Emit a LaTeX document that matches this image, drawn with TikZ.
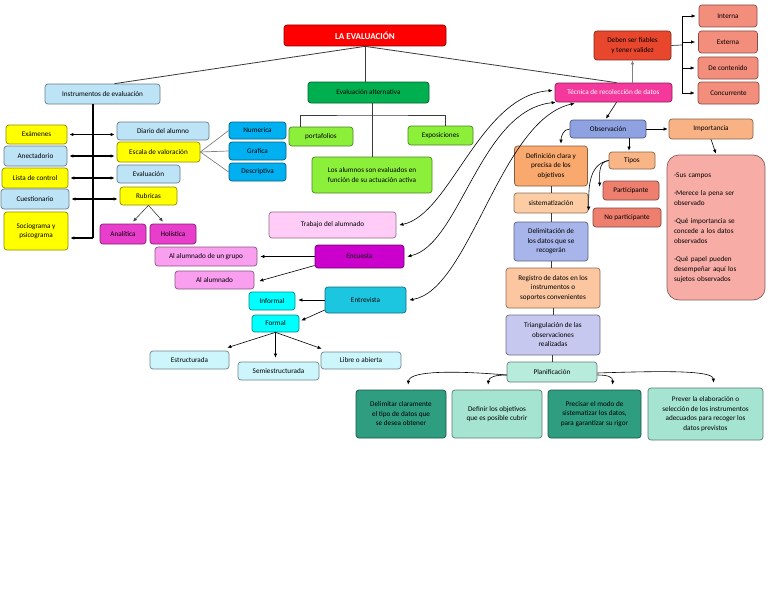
\documentclass[tikz,border=0pt]{standalone}
\usepackage{fontspec}
\setmainfont{Carlito}
\usetikzlibrary{arrows.meta,calc}
\definecolor{cred}{HTML}{FF0000}
\definecolor{clblue}{HTML}{BDE3F7}
\definecolor{cyel}{HTML}{FFFF00}
\definecolor{cblue}{HTML}{00B0F0}
\definecolor{cmag}{HTML}{E83ECB}
\definecolor{cgreen}{HTML}{00B050}
\definecolor{clime}{HTML}{8CF03A}
\definecolor{clpink}{HTML}{FFCCF7}
\definecolor{cpurple}{HTML}{CC00CC}
\definecolor{cpink}{HTML}{FA9EF0}
\definecolor{ccyan}{HTML}{1CC6E0}
\definecolor{caqua}{HTML}{00FFFF}
\definecolor{clcyan}{HTML}{CCF6FC}
\definecolor{ctec}{HTML}{F5389C}
\definecolor{cdeb}{HTML}{E8472E}
\definecolor{csal}{HTML}{F38E7D}
\definecolor{cperi}{HTML}{8EA2E2}
\definecolor{clor}{HTML}{F9B283}
\definecolor{cbig}{HTML}{F7ADA6}
\definecolor{cdef}{HTML}{F9A96E}
\definecolor{csis}{HTML}{FCCDA4}
\definecolor{cdelim}{HTML}{A8B5EA}
\definecolor{creg}{HTML}{FBC6A0}
\definecolor{ctri}{HTML}{C7C8EF}
\definecolor{cplan}{HTML}{B7EBDB}
\definecolor{cdteal}{HTML}{2F9D7F}
\definecolor{clteal}{HTML}{A6E4D2}
\definecolor{ctipos}{HTML}{FAB586}
\definecolor{cpart}{HTML}{EE7F6F}
\definecolor{cline}{HTML}{3A3A3A}
\begin{document}
\begin{tikzpicture}[x=1pt,y=-1pt,
  bx/.style={rounded corners=3pt, line width=0.7pt, inner sep=1pt, align=center, font=\fontsize{7.2}{9.5}\selectfont},
  c/.style={fill=#1, draw=#1!55!black},
  sz/.style 2 args={minimum width=#1pt, minimum height=#2pt},
  ar/.style={-{Latex[length=4pt,width=3.5pt]}, line width=0.6pt},
  dar/.style={{Latex[length=4pt,width=3.5pt]}-{Latex[length=4pt,width=3.5pt]}, line width=0.6pt},
  con/.style={draw=cline, line width=0.8pt},
  brk/.style={line width=1.4pt, black},
  ]
\useasboundingbox[fill=white] (0,0) rectangle (768,594);

% ---- top
\node[bx,c=cred,sz={162}{21},text=white,font=\fontsize{9}{11}\selectfont\bfseries] (ev) at (365,35.5) {LA EVALUACIÓN};
\node[bx,c=clblue,sz={115}{20}] (inst) at (102.5,94) {Instrumentos de evaluación};
\node[bx,c=cgreen,sz={121}{21}] (ea) at (368.5,92.5) {Evaluación alternativa};
\node[bx,c=ctec,sz={117}{19},text=white] (tec) at (613.5,92.5) {Técnica de recolección de datos};
\node[bx,c=cdeb,sz={77}{29}] (deb) at (632.5,45.5) {Deben ser fiables\\y tener validez};
\node[bx,c=csal,sz={58}{22}] (int) at (728,16) {Interna};
\node[bx,c=csal,sz={59}{22}] (ext) at (728,42) {Externa};
\node[bx,c=csal,sz={60}{22}] (cont) at (728,68) {De contenido};
\node[bx,c=csal,sz={61}{22}] (conc) at (728.5,93) {Concurrente};

% ---- left column
\node[bx,c=cyel,sz={61}{19}] (exam) at (36.5,134.5) {Exámenes};
\node[bx,c=clblue,sz={63}{20}] (anec) at (35.5,156) {Anectadorio};
\node[bx,c=cyel,sz={66}{20}] (lista) at (35,178) {Lista de control};
\node[bx,c=clblue,sz={68}{20}] (cues) at (35,199) {Cuestionario};
\node[bx,c=cyel,sz={64}{38}] (socio) at (36,231) {Sociograma y\\psicograma};
\node[bx,c=clblue,sz={92}{18}] (diario) at (163,131) {Diario del alumno};
\node[bx,c=cyel,sz={83}{20}] (escala) at (158.5,152) {Escala de valoración};
\node[bx,c=clblue,sz={63}{18}] (evalu) at (148.5,174) {Evaluación};
\node[bx,c=cyel,sz={57}{18}] (rub) at (148.5,196) {Rubricas};
\node[bx,c=cblue,sz={57}{17}] (num) at (257.5,130.5) {Numerica};
\node[bx,c=cblue,sz={57}{18}] (graf) at (257.5,151) {Grafica};
\node[bx,c=cblue,sz={57}{18}] (desc) at (257.5,172) {Descriptiva};
\node[bx,c=cmag,sz={46}{20}] (anal) at (123,234) {Analítica};
\node[bx,c=cmag,sz={46}{20}] (hol) at (173,234) {Holística};

% ---- alternative evaluation
\node[bx,c=clime,sz={64}{19}] (port) at (321,136.5) {portafolios};
\node[bx,c=clime,sz={65}{19}] (expo) at (440.5,135.5) {Exposiciones};
\node[bx,c=clime,sz={120}{36}] (alum) at (372,175) {Los alumnos son evaluados en\\función de su actuación activa};

% ---- techniques
\node[bx,c=clpink,sz={127}{26}] (trab) at (332.5,225) {Trabajo del alumnado};
\node[bx,c=cpurple,sz={89}{23}] (enc) at (359.5,256.5) {Encuesta};
\node[bx,c=cpink,sz={102}{19}] (grupo) at (206,256.5) {Al alumnado de un grupo};
\node[bx,c=cpink,sz={79}{18}] (alum2) at (214.5,280) {Al alumnado};
\node[bx,c=ccyan,sz={81}{26}] (ent) at (365.5,300) {Entrevista};
\node[bx,c=caqua,sz={46}{18}] (inf) at (272,301) {Informal};
\node[bx,c=caqua,sz={47}{17}] (form) at (275.5,323.5) {Formal};
\node[bx,c=clcyan,sz={79}{18}] (estr) at (189.5,360) {Estructurada};
\node[bx,c=clcyan,sz={81}{18}] (semi) at (278.5,371) {Semiestructurada};
\node[bx,c=clcyan,sz={80}{17}] (libre) at (361,360.5) {Libre o abierta};

% ---- observation
\node[bx,c=cperi,sz={76}{18}] (obs) at (608,129) {Observación};
\node[bx,c=clor,sz={84}{20}] (imp) at (711,129) {Importancia};
\node[bx,c=cbig,sz={98}{145},rounded corners=12pt,align=left,text width=84pt,font=\fontsize{7.2}{10}\selectfont] (big) at (716,227.5)
  {-Sus campos\\[8pt]-Merece la pena ser\\observado\\[8pt]-Qué importancia se\\concede a los datos\\observados\\[8pt]-Qué papel pueden\\desempeñar aquí los\\sujetos observados};
\node[bx,c=cdef,sz={73}{40}] (def) at (551,166) {Definición clara y\\precisa de los\\objetivos};
\node[bx,c=csis,sz={74}{20}] (sis) at (551,203) {sistematización};
\node[bx,c=cdelim,sz={74}{39}] (delim) at (551,241.5) {Delimitación de\\los datos que se\\recogerán};
\node[bx,c=creg,sz={94}{40}] (reg) at (553,288) {Registro de datos en los\\instrumentos o\\soportes convenientes};
\node[bx,c=ctri,sz={94}{40}] (tri) at (553,335) {Triangulación de las\\observaciones\\realizadas};
\node[bx,c=cplan,sz={90}{20}] (plan) at (552,372) {Planificación};
\node[bx,c=ctipos,sz={46}{17}] (tipos) at (632,160.5) {Tipos};
\node[bx,c=cpart,sz={56}{19}] (part) at (631,190.5) {Participante};
\node[bx,c=cpart,sz={68}{19}] (np) at (627,217.5) {No participante};

% ---- planning children
\node[bx,c=cdteal,sz={90}{48}] (d1) at (401,414) {Delimitar claramente\\el tipo de datos que\\se desea obtener};
\node[bx,c=clteal,sz={90}{48}] (d2) at (497,414) {Definir los objetivos\\que es posible cubrir};
\node[bx,c=cdteal,sz={93}{48}] (d3) at (594.5,414) {Precisar el modo de\\sistematizar los datos,\\para garantizar su rigor};
\node[bx,c=clteal,sz={115}{52}] (d4) at (705.5,414) {Prever la elaboración o\\selección de los instrumentos\\adecuados para recoger los\\datos previstos};

% ---- connectors: top
\draw[con] (ev.south) -- ([xshift=12pt]inst.north);
\draw[con] (ev.south) -- (ev.south |- ea.north);
\draw[con] (ev.south) -- ([xshift=3pt]tec.north);

% instruments bracket
\coordinate (vtop) at (93,104);
\coordinate (vbot) at (93,238);
\draw[brk] (vtop) -- (vbot);
\draw[brk,{Latex[length=4pt,width=3.5pt]}-{Latex[length=4pt,width=3.5pt]}] ([xshift=2pt]exam.east) -- ([xshift=-2pt]exam.east -| diario.west);
\draw[brk,{Latex[length=4pt,width=3.5pt]}-{Latex[length=4pt,width=3.5pt]}] ([xshift=2pt]anec.east) -- ([xshift=-2pt]anec.east -| escala.west);
\draw[brk,{Latex[length=4pt,width=3.5pt]}-{Latex[length=4pt,width=3.5pt]}] ([xshift=2pt]lista.east) -- ([xshift=-2pt]lista.east -| evalu.west);
\draw[brk,{Latex[length=4pt,width=3.5pt]}-{Latex[length=4pt,width=3.5pt]}] ([xshift=2pt]cues.east) -- ([xshift=-2pt]cues.east -| rub.west);
\draw[brk,-{Latex[length=4pt,width=3.5pt]}] (vbot) -- ([xshift=2pt]vbot -| socio.east);

\draw[gray,line width=0.7pt] (escala.east) -- (num.west);
\draw[gray,line width=0.7pt] (escala.east) -- (graf.west);
\draw[gray,line width=0.7pt] (escala.east) -- (desc.west);
\draw[ar,black!75] (rub.south) -- ([xshift=10pt,yshift=2pt]anal.north);
\draw[ar,black!75] (rub.south) -- ([xshift=-10pt,yshift=2pt]hol.north);

% alternative evaluation
\coordinate (eaj) at (372,115);
\draw[con] ([xshift=3.5pt]ea.south) -- ([xshift=3.5pt]ea.south |- alum.north);
\draw[con] ([xshift=-21pt]port.north) |- (eaj) -| ([xshift=4.5pt]expo.north);

% technique
\draw[ar,gray] (deb.south |- tec.north) -- (deb.south);
\coordinate (dj) at (682,45);
\draw[con,line width=0.7pt] (deb.east) -- (dj);
\draw[ar] (dj) |- ([xshift=-3pt]int.west);
\draw[ar] (dj) |- ([xshift=-3pt]ext.west);
\draw[ar] (dj) |- ([xshift=-3pt]cont.west);
\draw[ar] (dj) |- ([xshift=-3pt]conc.west);

\draw[dar] ([xshift=3pt]trab.east) .. controls (450,215) and (480,95) .. ([yshift=2pt,xshift=-2pt]tec.west);
\draw[dar] ([xshift=3pt]enc.east) .. controls (460,245) and (480,110) .. ([xshift=1pt]tec.south west);
\draw[dar] ([xshift=3pt]ent.east) .. controls (470,290) and (500,120) .. ([xshift=20pt,yshift=-1pt]tec.south west);

\draw[ar] ([xshift=3pt]tec.south) -- ([xshift=-2pt,yshift=1pt]obs.north);
\draw[ar] (obs.east) -- ([xshift=-1pt]imp.west);
\draw[ar] (imp.south) -- ([yshift=1pt]big.north);
\draw[ar] ([xshift=-3pt]tipos.north |- obs.south) -- ([xshift=-3pt,yshift=1pt]tipos.north);
\draw[ar] (obs.west) to[out=180,in=90] ([xshift=10pt,yshift=2pt]def.north);
\draw[ar] (tipos.west) to[out=185,in=90] ([shift={(-3pt,-6pt)}]part.north west);
\draw[ar] (tipos.west) to[out=190,in=90] ([shift={(-4pt,-3pt)}]np.north west);

\draw[con,line width=1pt] (def.south) -- (sis.north);
\draw[con,line width=1pt] (sis.south) -- (delim.north);
\draw[con,line width=1pt] (delim.south) -- (delim.south |- reg.north);
\draw[con,line width=1pt] (reg.south) -- (tri.north);
\draw[con,line width=1pt] ([xshift=-1pt]tri.south) -- ([xshift=-1pt]tri.south |- plan.north);

% encuesta / entrevista
\draw[ar] (enc.west) -- ([xshift=3pt]grupo.east);
\draw[ar] ([yshift=-9pt]enc.west) -- ([xshift=5pt,yshift=-1pt]alum2.east);
\draw[ar] (ent.west) -- ([xshift=3pt,yshift=1pt]inf.east);
\draw[ar] ([yshift=-10pt]ent.west) -- ([xshift=2pt,yshift=3pt]form.east);
\draw[ar] (form.south) -- ([xshift=-2pt,yshift=3pt]estr.north east);
\draw[ar] (form.south) -- ([yshift=4pt]form.south |- semi.north);
\draw[ar] (form.south) -- ([xshift=1pt,yshift=3pt]libre.north west);

% planning
\draw[ar] ([yshift=-3pt]plan.west) .. controls (460,371) and (410,370) .. ([xshift=7pt,yshift=5pt]d1.north);
\draw[ar] ([yshift=-3pt]plan.west) .. controls (495,375) and (489,377) .. ([xshift=-9pt,yshift=5pt]d2.north);
\draw[ar] ([yshift=-3pt]plan.east) .. controls (608,375) and (613,377) .. ([xshift=18pt,yshift=5pt]d3.north);
\draw[ar] ([yshift=-1pt]plan.east) .. controls (660,371) and (713,370) .. ([xshift=8pt,yshift=5pt]d4.north);
\end{tikzpicture}
\end{document}
